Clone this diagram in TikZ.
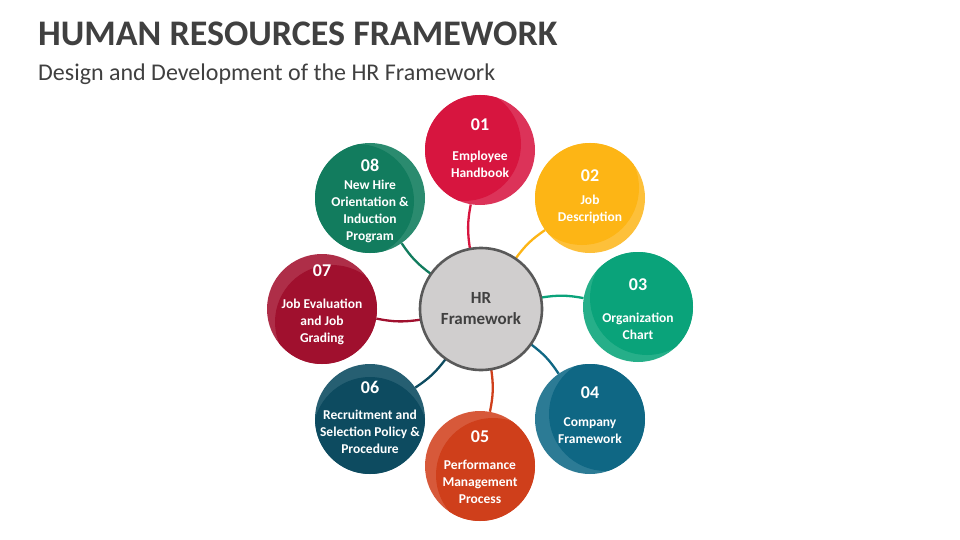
\documentclass[tikz,border=0pt]{standalone}
\usepackage{fontspec}
\setmainfont{Carlito}
\definecolor{tgray}{HTML}{404040}
\definecolor{hubfill}{HTML}{D0CECE}
\definecolor{hubline}{HTML}{595959}
\definecolor{cAd}{HTML}{D7153F}\definecolor{cAl}{HTML}{DC3359}
\definecolor{cBd}{HTML}{FDB515}\definecolor{cBl}{HTML}{FDC03A}
\definecolor{cCd}{HTML}{0AA37A}\definecolor{cCl}{HTML}{26AF89}
\definecolor{cDd}{HTML}{0F6784}\definecolor{cDl}{HTML}{2C7B95}
\definecolor{cEd}{HTML}{CF3F1B}\definecolor{cEl}{HTML}{D7593A}
\definecolor{cFd}{HTML}{0D4B60}\definecolor{cFl}{HTML}{265F72}
\definecolor{cGd}{HTML}{A0102E}\definecolor{cGl}{HTML}{AE2E48}
\definecolor{cHd}{HTML}{127C5E}\definecolor{cHl}{HTML}{2B8B6F}
\newcommand\hrbubble[6]{%
  % #1 center, #2 dark, #3 light, #4 offset center of dark circle
  \fill[#3] (#1) circle (55);
  \begin{scope}
    \clip (#1) circle (55);
    \fill[#2] (#4) circle (57);
  \end{scope}
  \node[numst] at (#5) {#6};
}
\begin{document}
\begin{tikzpicture}[x=1pt,y=-1pt,
  bubst/.style={circle, minimum size=110pt, inner sep=0pt},
  hubst/.style={circle, minimum size=122pt, inner sep=0pt, fill=hubfill, draw=hubline, line width=2.6pt,
     text=tgray, align=center, font=\bfseries\fontsize{17}{21}\selectfont},
  conn/.style={line width=2.3pt},
  numst/.style={text=white, inner sep=0pt, font=\bfseries\fontsize{18}{20}\selectfont},
  labst/.style={text=white, inner sep=0pt, align=center, font=\bfseries\fontsize{13.5}{17}\selectfont}]
\useasboundingbox (0,0) rectangle (960,540);
\fill[white] (0,0) rectangle (960,540);
\node[anchor=base west, inner sep=0pt, text=tgray, font=\bfseries\fontsize{36}{40}\selectfont] (title) at (38,46) {HUMAN RESOURCES FRAMEWORK};
\node[anchor=base west, inner sep=0pt, text=tgray, font=\fontsize{24}{28}\selectfont] (subtitle) at (38,81) {Design and Development of the HR Framework};
% anchor nodes
\node[bubst] (b1) at (480,150) {};
\node[bubst] (b2) at (590,198) {};
\node[bubst] (b3) at (638,307) {};
\node[bubst] (b4) at (590,419) {};
\node[bubst] (b5) at (480,466) {};
\node[bubst] (b6) at (370,419) {};
\node[bubst] (b7) at (322,309) {};
\node[bubst] (b8) at (370,198) {};
\coordinate (hc) at (481,309);
\node[circle, minimum size=122pt, inner sep=0pt] (hubb) at (hc) {};
% connectors
\draw[conn, cAd] (hubb) to[bend left=10] (b1);
\draw[conn, cBd] (hubb) to[bend left=10] (b2);
\draw[conn, cCd] (hubb) to[bend left=10] (b3);
\draw[conn, cDd] (hubb) to[bend left=10] (b4);
\draw[conn, cEd] (hubb) to[bend left=10] (b5);
\draw[conn, cFd] (hubb) to[bend left=10] (b6);
\draw[conn, cGd] (hubb) to[bend left=10] (b7);
\draw[conn, cHd] (hubb) to[bend left=10] (b8);
% bubbles
\hrbubble{b1.center}{cAd}{cAl}{464,144}{480,125}{01}
\node[labst] (l1) at (480,164.5) {Employee\\Handbook};
\hrbubble{b2.center}{cBd}{cBl}{582,188}{590,176}{02}
\node[labst] (l2) at (590,209.5) {Job\\Description};
\hrbubble{b3.center}{cCd}{cCl}{647,298}{638,285}{03}
\node[labst] (l3) at (638,326.5) {Organization\\Chart};
\hrbubble{b4.center}{cDd}{cDl}{606,414}{590,393}{04}
\node[labst] (l4) at (590,430.5) {Company\\Framework};
\hrbubble{b5.center}{cEd}{cEl}{493,475}{480,437}{05}
\node[labst] (l5) at (480,482) {Performance\\Management\\Process};
\hrbubble{b6.center}{cFd}{cFl}{370,434}{370,387}{06}
\node[labst] (l6) at (370,432) {Recruitment and\\Selection Policy \&\\Procedure};
\hrbubble{b7.center}{cGd}{cGl}{332,322}{322,271}{07}
\node[labst] (l7) at (322,322) {Job Evaluation\\and Job\\Grading};
\hrbubble{b8.center}{cHd}{cHl}{357,201}{370,165}{08}
\node[labst] (l8) at (370,211.5) {New Hire\\Orientation \&\\Induction\\Program};
% hub
\node[hubst] (hub) at (hc) {HR\\Framework};
\end{tikzpicture}
\end{document}
